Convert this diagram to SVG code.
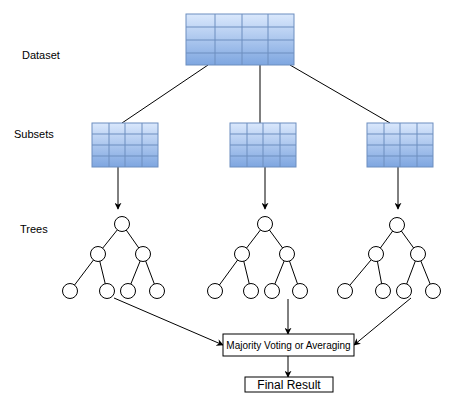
<svg xmlns="http://www.w3.org/2000/svg" width="474" height="411" viewBox="0 0 474 411">
<defs>
<linearGradient id="g" x1="0" y1="0" x2="0" y2="1">
<stop offset="0" stop-color="#dae8fc"/>
<stop offset="1" stop-color="#7ea6e0"/>
</linearGradient>
<marker id="ah" viewBox="0 0 10 10" refX="9" refY="5" markerWidth="7" markerHeight="7" orient="auto" markerUnits="userSpaceOnUse">
<path d="M0,0 L10,5 L0,10 L3,5 Z" fill="#000"/>
</marker>
</defs>
<style>
.tbl{fill:url(#g);stroke:#6c8ebf;stroke-width:1}
.grid{stroke:#6c8ebf;stroke-width:1;fill:none}
.c{fill:#fff;stroke:#000;stroke-width:1}
.e{stroke:#000;stroke-width:1;fill:none}
.lbl{font-family:"Liberation Sans",Arial,sans-serif;font-size:11px;fill:#000}
.box{fill:#fff;stroke:#000;stroke-width:1}
</style>
<rect width="474" height="411" fill="#fff"/>
<g id="labels">
<text class="lbl" x="22" y="59">Dataset</text>
<text class="lbl" x="14" y="138">Subsets</text>
<text class="lbl" x="20" y="233">Trees</text>
</g>
<g id="connectors">
<line class="e" x1="208" y1="65" x2="122" y2="123"/>
<line class="e" x1="260" y1="65" x2="260" y2="123"/>
<line class="e" x1="290" y1="65" x2="390" y2="123"/>
<line class="e" x1="118" y1="167" x2="118" y2="209" marker-end="url(#ah)"/>
<line class="e" x1="265" y1="167" x2="265" y2="209" marker-end="url(#ah)"/>
<line class="e" x1="398" y1="167" x2="398" y2="209" marker-end="url(#ah)"/>
<line class="e" x1="114" y1="298" x2="223" y2="345" marker-end="url(#ah)"/>
<line class="e" x1="288" y1="299" x2="288" y2="334" marker-end="url(#ah)"/>
<line class="e" x1="411" y1="298" x2="354" y2="345" marker-end="url(#ah)"/>
<line class="e" x1="288" y1="356" x2="288" y2="377" marker-end="url(#ah)"/>
</g>
<g id="dataset">
<rect class="tbl" x="186" y="14" width="108" height="51"/>
<path class="grid" d="M215,14V65M242,14V65M268,14V65M186,27H294M186,40H294M186,53H294"/>
</g>
<g id="subset1">
<rect class="tbl" x="92" y="123" width="66" height="44"/>
<path class="grid" d="M109,123V167M125,123V167M142,123V167M92,134H158M92,145H158M92,156H158"/>
</g>
<g id="subset2">
<rect class="tbl" x="230" y="123" width="66" height="44"/>
<path class="grid" d="M247,123V167M263,123V167M280,123V167M230,134H296M230,145H296M230,156H296"/>
</g>
<g id="subset3">
<rect class="tbl" x="367" y="123" width="66" height="44"/>
<path class="grid" d="M384,123V167M400,123V167M417,123V167M367,134H433M367,145H433M367,156H433"/>
</g>
<g id="tree1">
<path class="e" d="M122,224L98,254M122,224L143,254M98,254L70,291M98,254L107,291M143,254L128,291M143,254L157,291"/>
<circle class="c" cx="122" cy="224" r="7.5"/>
<circle class="c" cx="98" cy="254" r="7.5"/>
<circle class="c" cx="143" cy="254" r="7.5"/>
<circle class="c" cx="70" cy="291" r="7.5"/>
<circle class="c" cx="107" cy="291" r="7.5"/>
<circle class="c" cx="128" cy="291" r="7.5"/>
<circle class="c" cx="157" cy="291" r="7.5"/>
</g>
<g id="tree2">
<path class="e" d="M265,224L242,254M265,224L287,254M242,254L215,291M242,254L251,291M287,254L272,291M287,254L300,291"/>
<circle class="c" cx="265" cy="224" r="7.5"/>
<circle class="c" cx="242" cy="254" r="7.5"/>
<circle class="c" cx="287" cy="254" r="7.5"/>
<circle class="c" cx="215" cy="291" r="7.5"/>
<circle class="c" cx="251" cy="291" r="7.5"/>
<circle class="c" cx="272" cy="291" r="7.5"/>
<circle class="c" cx="300" cy="291" r="7.5"/>
</g>
<g id="tree3">
<path class="e" d="M397,225L376,254M397,225L418,254M376,254L345,291M376,254L383,291M418,254L404,291M418,254L433,291"/>
<circle class="c" cx="397" cy="225" r="7.5"/>
<circle class="c" cx="376" cy="254" r="7.5"/>
<circle class="c" cx="418" cy="254" r="7.5"/>
<circle class="c" cx="345" cy="291" r="7.5"/>
<circle class="c" cx="383" cy="291" r="7.5"/>
<circle class="c" cx="404" cy="291" r="7.5"/>
<circle class="c" cx="433" cy="291" r="7.5"/>
</g>
<g id="majority">
<rect class="box" x="223" y="334" width="131" height="22"/>
<text class="lbl" x="288.5" y="349" text-anchor="middle" font-size="10" style="font-size:10px">Majority Voting or Averaging</text>
</g>
<g id="final">
<rect class="box" x="245" y="377" width="88" height="15"/>
<text class="lbl" x="289" y="389" text-anchor="middle" style="font-size:12px">Final Result</text>
</g>
</svg>
